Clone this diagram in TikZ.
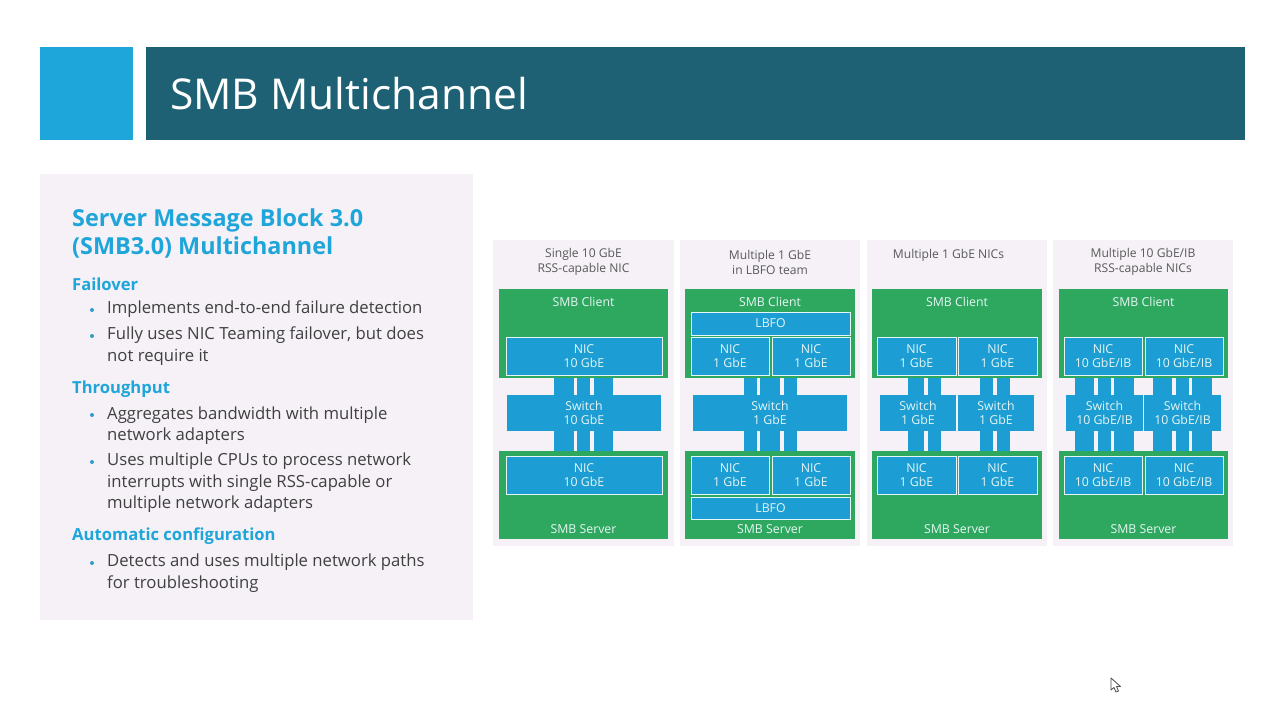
\documentclass[tikz,border=0pt]{standalone}
\usepackage{fontspec}
\setmainfont{Open Sans}
\definecolor{smbblue}{HTML}{1EA5DA}
\definecolor{smbnet}{HTML}{1C9DD3}
\definecolor{smbteal}{HTML}{1E6174}
\definecolor{smbpanel}{HTML}{F5F1F7}
\definecolor{smbgreen}{HTML}{2FA85F}
\definecolor{smbtext}{HTML}{404040}
\definecolor{smbcap}{HTML}{595959}
\definecolor{smbpale}{HTML}{E6F6F4}
\tikzset{
  sz/.style 2 args={minimum width=#1pt,minimum height=#2pt},
  panelbox/.style={fill=smbpanel,inner sep=0pt},
  greenbox/.style={fill=smbgreen,inner sep=0pt},
  nicbox/.style={fill=smbnet,draw=smbpale,line width=0.9pt,inner sep=0pt,text=smbpale,align=center,font=\netfont},
  switchbox/.style={fill=smbnet,inner sep=0pt,text=smbpale,align=center,font=\netfont},
  hostlabel/.style={text=smbpale,inner sep=0pt,font=\netfont},
  caption/.style={text=smbcap,inner sep=0pt,align=center,font=\fontsize{12.1}{15}\selectfont},
  link/.style={draw=smbnet},
  bighead/.style={text=smbblue,inner sep=0pt,anchor=west,align=left,font=\bfseries\fontsize{23.4}{28.5}\selectfont},
  subhead/.style={text=smbblue,inner sep=0pt,anchor=west,font=\bfseries\fontsize{16.6}{20}\selectfont},
  bodytext/.style={text=smbtext,inner sep=0pt,anchor=west,align=left,font=\fontsize{16.7}{21.5}\selectfont},
  dotmark/.style={circle,fill=smbblue!80!gray,inner sep=0pt,minimum size=4pt},
}
\newcommand{\netfont}{\fontsize{12.3}{14.5}\selectfont}
\begin{document}
\begin{tikzpicture}[x=1pt,y=-1pt]
  \useasboundingbox (0,0) rectangle (1280,720);
  \fill [white] (0,0) rectangle (1280,720);
  % header
  \node [fill=smbblue,sz={93}{93},inner sep=0pt] (headsquare) at (86.5,93.5) {};
  \node [fill=smbteal,sz={1099}{93},inner sep=0pt] (headbar) at (695.5,93.5) {};
  \node [text=white,inner sep=0pt,anchor=west,font=\fontsize{42.5}{48}\selectfont] (title) at (170,94) {SMB Multichannel};
  % left text
  \node [panelbox,sz={433}{446}] (textpanel) at (256.5,397) {};
  \node [bighead] (heading) at (72,233.5) {Server Message Block 3.0\\(SMB3.0) Multichannel};
  \node [subhead] (failover) at (72,284) {Failover};
  \node [dotmark] (dota) at (92,310) {};
  \node [bodytext] (impl) at (107,309.5) {Implements end-to-end failure detection};
  \node [dotmark] (dotb) at (92,336) {};
  \node [bodytext] (fully) at (107,346) {Fully uses NIC Teaming failover, but does\\not require it};
  \node [subhead] (throughput) at (72,389) {Throughput};
  \node [dotmark] (dotc) at (92,415) {};
  \node [bodytext] (aggr) at (107,425.5) {Aggregates bandwidth with multiple\\network adapters};
  \node [dotmark] (dotd) at (92,462) {};
  \node [bodytext] (cpus) at (107,483) {Uses multiple CPUs to process network\\interrupts with single RSS-capable or\\multiple network adapters};
  \node [subhead] (autoconf) at (72,536) {Automatic configuration};
  \node [dotmark] (dote) at (92,563) {};
  \node [bodytext] (detects) at (107,573) {Detects and uses multiple network paths\\for troubleshooting};
  % first column
  \node [panelbox,sz={181}{306}] (panelA) at (583.5,393) {};
  \node [caption] (capA) at (583.5,262) {Single 10 GbE\\RSS-capable NIC};
  \node [greenbox,sz={169}{89}] (clientA) at (583.5,333.5) {};
  \node [greenbox,sz={169}{88}] (serverA) at (583.5,495) {};
  \node [hostlabel] (clabA) at (583.5,301.5) {SMB Client};
  \node [hostlabel] (slabA) at (583.5,529) {SMB Server};
  \node [nicbox,sz={156}{38}] (nicAa) at (584,356) {NIC\\10 GbE};
  \node [nicbox,sz={156}{38}] (nicAb) at (584,475) {NIC\\10 GbE};
  \node [switchbox,sz={154}{36}] (swA) at (584,413) {Switch\\10 GbE};
  \foreach \x/\w in {564/20,583.5/13,603.5/19} {
    \draw [link,line width=\w pt] (\x,0 |- clientA.south) -- (\x,0 |- swA.north);
    \draw [link,line width=\w pt] (\x,0 |- swA.south) -- (\x,0 |- serverA.north);
  }
  % second column
  \node [panelbox,sz={180}{306}] (panelB) at (770,393) {};
  \node [caption] (capB) at (770,262) {Multiple 1 GbE\\in LBFO team};
  \node [greenbox,sz={170}{89}] (clientB) at (770,333.5) {};
  \node [greenbox,sz={170}{88}] (serverB) at (770,495) {};
  \node [hostlabel] (clabB) at (770,301.5) {SMB Client};
  \node [hostlabel] (slabB) at (770,529) {SMB Server};
  \node [nicbox,sz={159}{23}] (lbfoBa) at (770.5,323.5) {LBFO};
  \node [nicbox,sz={159}{22}] (lbfoBb) at (770.5,508) {LBFO};
  \node [nicbox,sz={78}{38}] (nicBa) at (730,356) {NIC\\1 GbE};
  \node [nicbox,sz={78}{38}] (nicBb) at (811,356) {NIC\\1 GbE};
  \node [nicbox,sz={78}{38}] (nicBc) at (730,475) {NIC\\1 GbE};
  \node [nicbox,sz={78}{38}] (nicBd) at (811,475) {NIC\\1 GbE};
  \node [switchbox,sz={154}{36}] (swB) at (770,413) {Switch\\1 GbE};
  \foreach \x/\w in {750.5/13,770/20,790.5/13} {
    \draw [link,line width=\w pt] (\x,0 |- clientB.south) -- (\x,0 |- swB.north);
    \draw [link,line width=\w pt] (\x,0 |- swB.south) -- (\x,0 |- serverB.north);
  }
  % third column
  \node [panelbox,sz={180}{306}] (panelC) at (957,393) {};
  \node [caption] (capC) at (948.5,255) {Multiple 1 GbE NICs};
  \node [greenbox,sz={170}{89}] (clientC) at (957,333.5) {};
  \node [greenbox,sz={170}{88}] (serverC) at (957,495) {};
  \node [hostlabel] (clabC) at (957,301.5) {SMB Client};
  \node [hostlabel] (slabC) at (957,529) {SMB Server};
  \node [nicbox,sz={79}{38}] (nicCa) at (916.5,356) {NIC\\1 GbE};
  \node [nicbox,sz={79}{38}] (nicCb) at (997.5,356) {NIC\\1 GbE};
  \node [nicbox,sz={79}{38}] (nicCc) at (916.5,475) {NIC\\1 GbE};
  \node [nicbox,sz={79}{38}] (nicCd) at (997.5,475) {NIC\\1 GbE};
  \node [switchbox,sz={76}{36}] (swCa) at (918,413) {Switch\\1 GbE};
  \node [switchbox,sz={76}{36}] (swCb) at (996,413) {Switch\\1 GbE};
  \foreach \x/\w/\s in {916/16/swCa,934.5/13/swCa,986.5/13/swCb,1003.5/13/swCb} {
    \draw [link,line width=\w pt] (\x,0 |- clientC.south) -- (\x,0 |- \s.north);
    \draw [link,line width=\w pt] (\x,0 |- \s.south) -- (\x,0 |- serverC.north);
  }
  % fourth column
  \node [panelbox,sz={180}{306}] (panelD) at (1143,393) {};
  \node [caption] (capD) at (1143,262) {Multiple 10 GbE/IB\\RSS-capable NICs};
  \node [greenbox,sz={169}{89}] (clientD) at (1143.5,333.5) {};
  \node [greenbox,sz={169}{88}] (serverD) at (1143.5,495) {};
  \node [hostlabel] (clabD) at (1143.5,301.5) {SMB Client};
  \node [hostlabel] (slabD) at (1143.5,529) {SMB Server};
  \node [nicbox,sz={78}{38}] (nicDa) at (1103,356) {NIC\\10 GbE/IB};
  \node [nicbox,sz={78}{38}] (nicDb) at (1184,356) {NIC\\10 GbE/IB};
  \node [nicbox,sz={78}{38}] (nicDc) at (1103,475) {NIC\\10 GbE/IB};
  \node [nicbox,sz={78}{38}] (nicDd) at (1184,475) {NIC\\10 GbE/IB};
  \node [switchbox,sz={77}{36}] (swDa) at (1104.5,413) {Switch\\10 GbE/IB};
  \node [switchbox,sz={77}{36}] (swDb) at (1182.5,413) {Switch\\10 GbE/IB};
  \foreach \x/\w/\s in {1084.5/19/swDa,1104.5/13/swDa,1124/20/swDa,1162.5/19/swDb,1182.5/13/swDb,1202/20/swDb} {
    \draw [link,line width=\w pt] (\x,0 |- clientD.south) -- (\x,0 |- \s.north);
    \draw [link,line width=\w pt] (\x,0 |- \s.south) -- (\x,0 |- serverD.north);
  }
  % mouse pointer
  \draw [fill=white,draw=black!70,line width=0.8pt,line join=round] (1111,678) -- (1111,690) -- (1114,687.5) -- (1116,692) -- (1118.5,691) -- (1116.5,686.5) -- (1120.5,686.5) -- cycle;
\end{tikzpicture}
\end{document}
